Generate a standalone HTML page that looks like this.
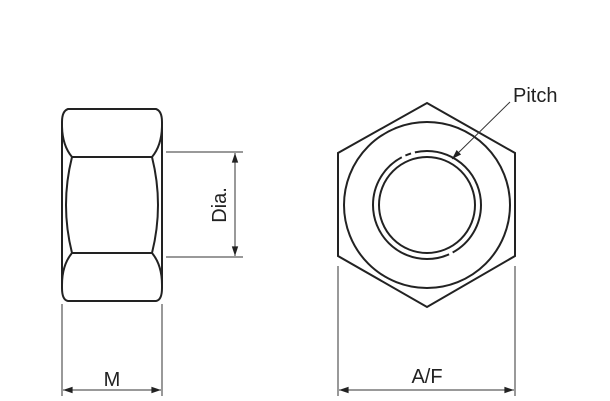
<!DOCTYPE html>
<html><head><style>body{margin:0;background:#fff}svg{display:block}</style></head>
<body>
<svg width="610" height="401" viewBox="0 0 610 401" xmlns="http://www.w3.org/2000/svg">
<defs>
<marker id="a" viewBox="0 0 12 10" refX="12" refY="5" markerWidth="12" markerHeight="8" orient="auto-start-reverse" markerUnits="userSpaceOnUse"><path d="M0,1 L12,5 L0,9 Z" fill="#222"/></marker>
</defs>
<g fill="none" stroke="#222" stroke-width="2">
<path d="M68,109 H156 Q162,111 162,122 V288 Q162,300 156,301 H68 Q62,300 62,288 V122 Q62,111 68,109Z"/>
<path d="M62,125 Q62,145 72,157 H152 Q162,145 162,125"/>
<path d="M72,157 Q60,205 72,253 M152,157 Q164,205 152,253"/>
<path d="M62,285 Q62,265 72,253 H152 Q162,265 162,285"/>
<polygon points="427,103 515,153 515,256 427,307 338,256 338,153"/>
<circle cx="427" cy="205" r="83"/>
<circle cx="427" cy="205" r="48"/>
<circle cx="427" cy="205" r="54" stroke-dasharray="58 4 166 4 6 4 200"/>
</g>
<g stroke="#333" stroke-width="1" fill="none">
<path d="M166,152 H243 M166,257 H243"/>
<line x1="235" y1="153" x2="235" y2="256" marker-start="url(#a)" marker-end="url(#a)"/>
<path d="M62,304 V396 M162,304 V396"/>
<line x1="63" y1="390" x2="161" y2="390" marker-start="url(#a)" marker-end="url(#a)"/>
<path d="M338,266 V396 M515,266 V396"/>
<line x1="339" y1="390" x2="514" y2="390" marker-start="url(#a)" marker-end="url(#a)"/>
<line x1="510" y1="102" x2="452" y2="159" marker-end="url(#a)"/>
</g>
<g font-family="Liberation Sans, sans-serif" font-size="20" fill="#222">
<text x="513" y="102">Pitch</text>
<text x="112" y="386" text-anchor="middle">M</text>
<text x="427" y="383" text-anchor="middle">A/F</text>
<text transform="translate(226,205) rotate(-90)" text-anchor="middle">Dia.</text>
</g>
</svg>
</body></html>
